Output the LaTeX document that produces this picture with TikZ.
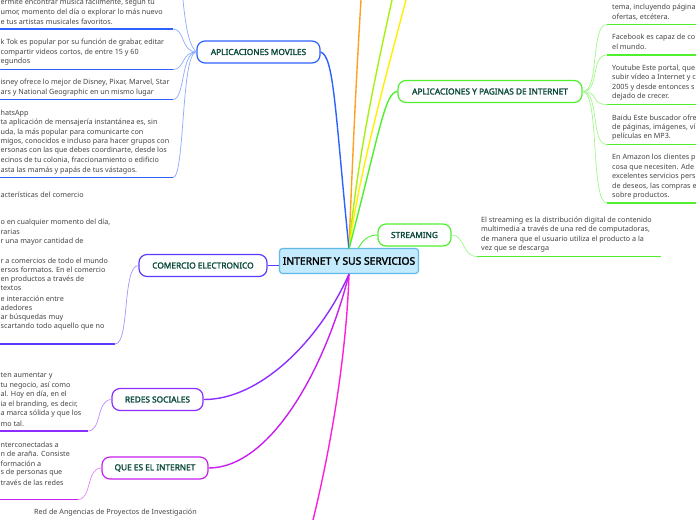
\documentclass[tikz,border=0pt]{standalone}
\usepackage{fontspec}
\setmainfont{Noto Sans}[AutoFakeBold=2]
\definecolor{hubfill}{HTML}{C4EAFD}
\definecolor{hubline}{HTML}{5FBAEA}
\definecolor{titlegreen}{HTML}{0C4A3C}
\definecolor{leaftext}{HTML}{444444}
\definecolor{cblue}{HTML}{2E62FF}
\definecolor{cindigo}{HTML}{5A3CFF}
\definecolor{cviolet}{HTML}{8C2EFF}
\definecolor{cpurple}{HTML}{C81EF0}
\definecolor{cmagenta}{HTML}{FF1EDC}
\definecolor{corange}{HTML}{FFA020}
\definecolor{clime}{HTML}{A8F010}
\definecolor{cyellow}{HTML}{FFF000}
\definecolor{cgreen}{HTML}{50F030}
\tikzset{
  hubbox/.style={draw=hubline,fill=hubfill,line width=1.2pt,rounded corners=3pt,
    minimum width=139pt,minimum height=25pt,inner sep=0pt,
    font=\fontsize{10.3}{12}\selectfont\bfseries},
  topicbox/.style={draw=#1,fill=white,line width=1.2pt,rounded corners=8pt,
    minimum height=22pt,inner sep=0pt,text=titlegreen,
    font=\fontsize{8.3}{10}\selectfont\bfseries},
  leafline/.style={anchor=west,inner sep=0pt,text=leaftext,
    font=\fontsize{7.2}{9}\selectfont},
  branch/.style={draw=#1,line width=1.4pt},
  twig/.style={draw=#1!55,line width=.7pt},
  rule/.style={draw=#1,line width=1.5pt}
}
\begin{document}
\begin{tikzpicture}[x=1pt,y=-1pt]
  \useasboundingbox (0,0) rectangle (696,520);

  \coordinate (hubtop) at (349,249);
  \coordinate (hubbot) at (349,274);

  % branches leaving the page
  \coordinate (orangeend) at (361,0);
  \coordinate (limeend) at (392,0);
  \coordinate (yellowend) at (406,0);
  \coordinate (magentaend) at (313,520);
  \draw[branch=corange] (hubtop) .. controls (352,170) and (356,80) .. (orangeend);
  \draw[branch=clime] (hubtop) .. controls (356,170) and (372,90) .. (limeend);
  \draw[branch=cyellow] (hubtop) .. controls (358,180) and (382,90) .. (yellowend);
  \draw[branch=cmagenta] (hubbot) .. controls (347,340) and (335,430) .. (magentaend);

  \node[hubbox] (hub) at (349,261) {INTERNET Y SUS SERVICIOS};

  \node[topicbox=cblue,minimum width=123pt] (moviles) at (258.5,52) {APLICACIONES MOVILES};
  \node[topicbox=cindigo,minimum width=128pt] (comercio) at (203,265.5) {COMERCIO ELECTRONICO};
  \node[topicbox=cviolet,minimum width=91pt] (redes) at (157.5,399.5) {REDES SOCIALES};
  \node[topicbox=cpurple,minimum width=106pt] (quees) at (155,468) {QUE ES EL INTERNET};
  \node[topicbox=cgreen,minimum width=184pt] (paginas) at (490,91.5) {APLICACIONES Y PAGINAS DE INTERNET};
  \node[topicbox=cgreen,minimum width=73pt] (streaming) at (414.5,235) {STREAMING};

  \draw[branch=cblue] (moviles.east) .. controls (334,56) and (335,110) .. (hubtop);
  \draw[branch=cindigo] (comercio.east) -- (hub.west |- comercio.east);
  \draw[branch=cviolet] (redes.east) .. controls (260,400) and (320,340) .. (hubbot);
  \draw[branch=cpurple] (quees.east) .. controls (270,468) and (325,370) .. (hubbot);
  \draw[branch=cgreen] (paginas.west) .. controls (385,92) and (380,130) .. (hubtop);
  \coordinate (strafoot) at (358,248.5);
  \draw[cgreen,line width=.9pt] (streaming.west) .. controls (368,235) and (363,240) .. (strafoot);

  % underlines of the leaves
  \coordinate (mova) at (173,29);   \coordinate (mova0) at (0,29);
  \coordinate (movb) at (173,69.5); \coordinate (movb0) at (0,69.5);
  \coordinate (movc) at (173,99.5); \coordinate (movc0) at (0,99.5);
  \coordinate (movd) at (173,177.5);\coordinate (movd0) at (0,177.5);
  \coordinate (movtop) at (183,0);
  \coordinate (come) at (115,344);  \coordinate (come0) at (0,344);
  \coordinate (rede) at (88,431);   \coordinate (rede0) at (0,431);
  \coordinate (ques) at (78,499.5); \coordinate (ques0) at (0,499.5);
  \coordinate (paga) at (607,24.5); \coordinate (paga0) at (696,24.5);
  \coordinate (pagb) at (607,55);   \coordinate (pagb0) at (696,55);
  \coordinate (pagc) at (607,104.5);\coordinate (pagc0) at (696,104.5);
  \coordinate (pagd) at (607,144.5);\coordinate (pagd0) at (696,144.5);
  \coordinate (page) at (607,203);  \coordinate (page0) at (696,203);
  \coordinate (stra) at (477,256.5);\coordinate (stra0) at (661,256.5);

  \foreach \from/\to in {mova/mova0,movb/movb0,movc/movc0,movd/movd0}
    \draw[rule=cblue] (\from) -- (\to);
  \draw[rule=cindigo] (come) -- (come0);
  \draw[rule=cviolet] (rede) -- (rede0);
  \draw[rule=cpurple] (ques) -- (ques0);
  \foreach \from/\to in {paga/paga0,pagb/pagb0,pagc/pagc0,pagd/pagd0,page/page0,stra/stra0}
    \draw[rule=cgreen] (\from) -- (\to);

  % twigs
  \foreach \to/\y in {mova/29,movb/69.5,movc/99.5,movd/177.5}
    \draw[twig=cblue] (moviles.west) .. controls (181,52) and (185,\y) .. (\to);
  \draw[twig=cblue] (moviles.west) .. controls (188,45) and (185,20) .. (movtop);
  \draw[twig=cindigo] (comercio.west) .. controls (122,266) and (130,344) .. (come);
  \draw[twig=cviolet] (redes.west) .. controls (96,400) and (102,431) .. (rede);
  \draw[twig=cpurple] (quees.west) .. controls (86,468) and (92,499.5) .. (ques);
  \foreach \to/\y in {paga/24.5,pagb/55,pagc/104.5,pagd/144.5,page/203}
    \draw[twig=cgreen] (paginas.east) .. controls (600,92) and (590,\y) .. (\to);
  \draw[twig=cgreen] (streaming.east) .. controls (465,235) and (462,256.5) .. (stra);

  % leaf texts
  \foreach \y/\t in {2.5/ermite encontrar música fácilmente{,} según tu,
      12.3/umor{,} momento del día o explorar lo más nuevo,
      21.4/e tus artistas musicales favoritos.,
      42.3/k Tok es popular por su función de grabar{,} editar,
      52.3/compartir videos cortos{,} de entre 15 y 60,
      61.6/egundos,
      82.5/isney ofrece lo mejor de Disney{,} Pixar{,} Marvel{,} Star,
      92.3/ars y National Geographic en un mismo lugar,
      113.3/hatsApp,
      122.4/ta aplicación de mensajería instantánea es{,} sin,
      132.3/uda{,} la más popular para comunicarte con,
      141.6/migos{,} conocidos e incluso para hacer grupos con,
      151/ersonas con las que debes coordinarte{,} desde los,
      160.4/ecinos de tu colonia{,} fraccionamiento o edificio,
      170.4/asta las mamás y papás de tus vástagos.,
      194.4/acterísticas del comercio,
      222.4/o en cualquier momento del día{,},
      231.6/rarias,
      241.4/r una mayor cantidad de,
      260.4/r a comercios de todo el mundo,
      269.6/ersos formatos. En el comercio,
      279.4/en productos a través de,
      288.6/textos,
      298.4/e interacción entre,
      307.4/adedores,
      317.4/ar búsquedas muy,
      326.6/scartando todo aquello que no,
      375.6/ten aumentar y,
      385.4/tu negocio{,} así como,
      394.6/al. Hoy en día{,} en el,
      404.4/ia el branding{,} es decir{,},
      413.6/a marca sólida y que los,
      423.4/mo tal.,
      444.4/nterconectadas a,
      453.6/n de araña. Consiste,
      463.4/formación a,
      472.6/s de personas que,
      482.4/través de las redes}
    \node[leafline] at (0.4,\y) {\t};

  \foreach \y/\t in {7.5/tema{,} incluyendo página,
      16.8/ofertas{,} etcétera.,
      37.4/Facebook es capaz de co,
      47.2/el mundo.,
      68.4/Youtube Este portal{,} que,
      77.6/subir vídeo a Internet y c,
      87.4/2005 y desde entonces s,
      96.6/dejado de crecer.,
      117.4/Baidu Este buscador ofre,
      127.6/de páginas{,} imágenes{,} ví,
      136.8/películas en MP3.,
      157.4/En Amazon los clientes p,
      167.2/cosa que necesiten. Ade,
      176.4/excelentes servicios pers,
      186.2/de deseos{,} las compras e,
      195.6/sobre productos.}
    \node[leafline] at (612,\y) {\t};

  \foreach \y/\t in {220.4/El streaming es la distribución digital de contenido,
      229.8/multimedia a través de una red de computadoras{,},
      239.4/de manera que el usuario utiliza el producto a la,
      248.6/vez que se descarga}
    \node[leafline] at (481,\y) {\t};

  \node[leafline] at (34,512.4) {Red de Angencias de Proyectos de Investigación};
\end{tikzpicture}
\end{document}
